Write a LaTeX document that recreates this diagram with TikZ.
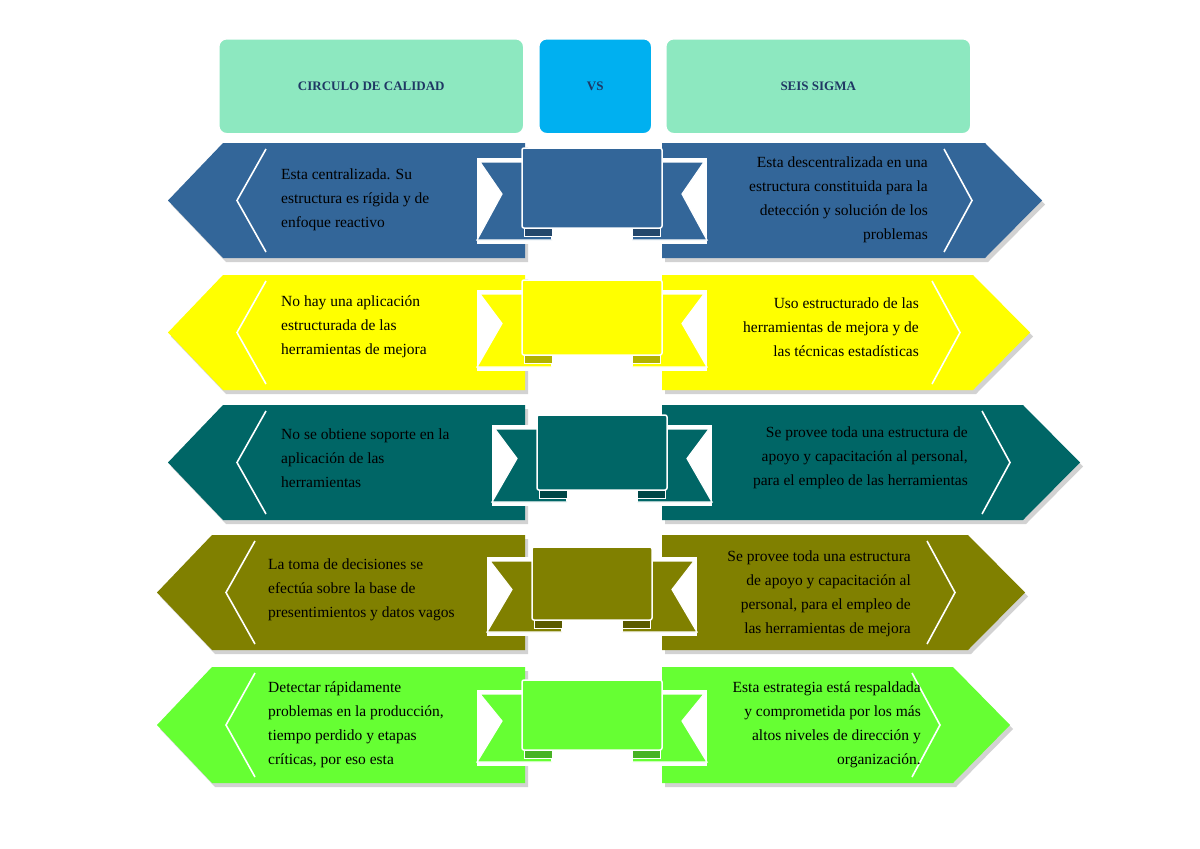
\documentclass[tikz,border=0pt]{standalone}
\usepackage{fontspec}
\setmainfont{Liberation Serif}
\begin{document}
\begin{tikzpicture}[x=1pt,y=-1pt,
  hdr/.style={rounded corners=8pt,draw=white,line width=1.5pt},
  htext/.style={font=\fontsize{13}{15}\selectfont\bfseries,text=navy},
  btxt/.style={font=\fontsize{15.5}{24}\selectfont,inner sep=0pt},
  wline/.style={draw=white,line width=1.6pt}]
\definecolor{navy}{HTML}{1F3864}
\definecolor{c1}{HTML}{336699}
\definecolor{c2}{HTML}{FFFF00}
\definecolor{c3}{HTML}{006666}
\definecolor{c4}{HTML}{808000}
\definecolor{c5}{HTML}{66FF33}
\useasboundingbox (0,0) rectangle (1200,849);
\fill[white] (0,0) rectangle (1200,849);
% header
\node[hdr,fill={rgb,255:red,141;green,232;blue,192},minimum width=305pt,minimum height=95pt,anchor=north west] (h1) at (218,38) {};
\node[htext] at (h1) {CIRCULO DE CALIDAD};
\node[hdr,fill={rgb,255:red,0;green,176;blue,240},minimum width=113pt,minimum height=95pt,anchor=north west] (h2) at (538,38) {};
\node[htext] at (h2) {VS};
\node[hdr,fill={rgb,255:red,141;green,232;blue,192},minimum width=305pt,minimum height=95pt,anchor=north west] (h3) at (665,38) {};
\node[htext] at (h3) {SEIS SIGMA};
% row macro: #1 top #2 bot #3 lefttip #4 righttip #5 color #6 bx1 #7 bx2 #8 by1 #9 by2
\newcommand\mkrow[9]{%
  \pgfmathsetmacro\md{(#1+#2)/2}
  \fill[gray!35] ({#3+3},{\md+4}) -- ({#3+58},{#1+4}) -- (528,{#1+4}) -- (528,{#2+4}) -- ({#3+58},{#2+4}) -- cycle;
  \fill[gray!35] (665,{#1+4}) -- ({#4-54},{#1+4}) -- ({#4+3},{\md+4}) -- ({#4-54},{#2+4}) -- (665,{#2+4}) -- cycle;
  \fill[#5] (#3,\md) -- ({#3+55},#1) -- (525,#1) -- (525,#2) -- ({#3+55},#2) -- cycle;
  \fill[#5] (662,#1) -- ({#4-57},#1) -- (#4,\md) -- ({#4-57},#2) -- (662,#2) -- cycle;
  \draw[wline] ({#3+98},{#1+6}) -- ({#3+69},\md) -- ({#3+98},{#2-6});
  \draw[wline] ({#4-98},{#1+6}) -- ({#4-70},\md) -- ({#4-98},{#2-6});
  \fill[white] ({#6-45},{#8+10}) rectangle ({#7+45},{#9+16});
  \filldraw[fill=#5,draw=white,line width=1.2pt] ({#6+20},{#8+14}) -- ({#6-42},{#8+14}) -- ({#6-20},{(#8+#9)/2+6}) -- ({#6-45},{#9+12}) -- ({#6+30},{#9+12}) -- cycle;
  \filldraw[fill=#5,draw=white,line width=1.2pt] ({#7-20},{#8+14}) -- ({#7+42},{#8+14}) -- ({#7+20},{(#8+#9)/2+6}) -- ({#7+45},{#9+12}) -- ({#7-30},{#9+12}) -- cycle;
  \filldraw[fill=#5!70!black,draw=white,line width=1pt] ({#6+2},{#9-2}) rectangle ({#6+30},{#9+8});
  \filldraw[fill=#5!70!black,draw=white,line width=1pt] ({#7-2},{#9-2}) rectangle ({#7-30},{#9+8});
  \filldraw[fill=#5,draw=white,line width=1.5pt,rounded corners=2pt] (#6,#8) rectangle (#7,#9);
}
\mkrow{143}{258}{168}{1042}{c1}{522}{662}{148}{228}
\mkrow{275}{390}{168}{1030}{c2}{522}{662}{280}{355}
\mkrow{405}{520}{168}{1080}{c3}{537}{667}{415}{490}
\mkrow{535}{650}{157}{1025}{c4}{532}{652}{547}{620}
\mkrow{667}{783}{157}{1010}{c5}{522}{662}{680}{750}
% texts
\node[btxt,align=left,anchor=west] (l1) at (281,200) {Esta centralizada. Su\\estructura es rígida y de\\enfoque reactivo};
\node[btxt,align=right,anchor=east] (r1) at (928,200) {Esta descentralizada en una\\estructura constituida para la\\detección y solución de los\\problemas};
\node[btxt,align=left,anchor=west] (l2) at (281,327) {No hay una aplicación\\estructurada de las\\herramientas de mejora};
\node[btxt,align=right,anchor=east] (r2) at (919,327) {Uso estructurado de las\\herramientas de mejora y de\\las técnicas estadísticas};
\node[btxt,align=left,anchor=west] (l3) at (281,458) {No se obtiene soporte en la\\aplicación de las\\herramientas};
\node[btxt,align=right,anchor=east] (r3) at (968,458) {Se provee toda una estructura de\\apoyo y capacitación al personal,\\para el empleo de las herramientas};
\node[btxt,align=left,anchor=west] (l4) at (268,590) {La toma de decisiones se\\efectúa sobre la base de\\presentimientos y datos vagos};
\node[btxt,align=right,anchor=east] (r4) at (911,594) {Se provee toda una estructura\\de apoyo y capacitación al\\personal, para el empleo de\\las herramientas de mejora};
\node[btxt,align=left,anchor=west] (l5) at (268,725) {Detectar rápidamente\\problemas en la producción,\\tiempo perdido y etapas\\críticas, por eso esta};
\node[btxt,align=right,anchor=east] (r5) at (921,725) {Esta estrategia está respaldada\\y comprometida por los más\\altos niveles de dirección y\\organización.};
\end{tikzpicture}
\end{document}
